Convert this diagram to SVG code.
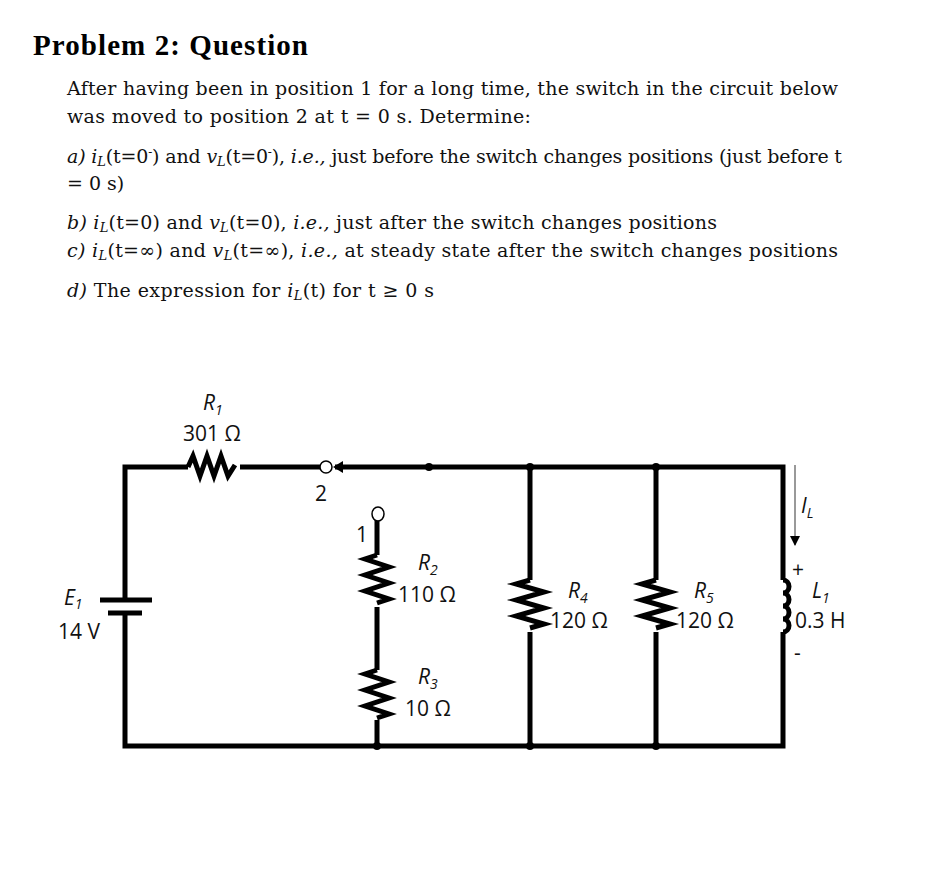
<svg xmlns="http://www.w3.org/2000/svg" width="952" height="894" viewBox="0 0 952 894">
<style>
.t{font-family:"DejaVu Serif","Liberation Serif",serif;font-size:19px;fill:#111}
.c{font-family:"Open Sans","Liberation Sans",sans-serif;font-size:21px;fill:#111}
.w{fill:none;stroke:#000;stroke-width:5;stroke-linejoin:miter}
</style>
<defs><marker id="ah" markerWidth="10" markerHeight="10" refX="9" refY="5" orient="auto" markerUnits="userSpaceOnUse"><path d="M0,0 L10,5 L0,10 z" fill="#000"/></marker></defs>
<rect width="952" height="894" fill="#fff"/>
<text x="33" y="55" style="font-family:'Liberation Serif',serif;font-size:29px;font-weight:bold" textLength="275">Problem 2: Question</text>
<text class="t" x="67" y="95" textLength="771">After having been in position 1 for a long time, the switch in the circuit below</text>
<text class="t" x="67" y="123" textLength="464">was moved to position 2 at t = 0 s.  Determine:</text>
<text class="t" x="67" y="163" textLength="775"><tspan font-style="italic">a) i<tspan font-size="13" dy="3">L</tspan></tspan><tspan dy="-3">(t=0</tspan><tspan font-size="12" dy="-7">-</tspan><tspan dy="7">) and </tspan><tspan font-style="italic">v<tspan font-size="13" dy="3">L</tspan></tspan><tspan dy="-3">(t=0</tspan><tspan font-size="12" dy="-7">-</tspan><tspan dy="7">), </tspan><tspan font-style="italic">i.e.,</tspan> just before the switch changes positions (just before t</text>
<text class="t" x="67" y="190">= 0 s)</text>
<text class="t" x="67" y="229" textLength="650"><tspan font-style="italic">b)  i<tspan font-size="13" dy="3">L</tspan></tspan><tspan dy="-3">(t=0) and </tspan><tspan font-style="italic">v<tspan font-size="13" dy="3">L</tspan></tspan><tspan dy="-3">(t=0), </tspan><tspan font-style="italic">i.e.,</tspan> just after the switch changes positions</text>
<text class="t" x="67" y="257" textLength="771"><tspan font-style="italic">c)  i<tspan font-size="13" dy="3">L</tspan></tspan><tspan dy="-3">(t=∞) and </tspan><tspan font-style="italic">v<tspan font-size="13" dy="3">L</tspan></tspan><tspan dy="-3">(t=∞), </tspan><tspan font-style="italic">i.e.,</tspan> at steady state after the switch changes positions</text>
<text class="t" x="67" y="297" textLength="367"><tspan font-style="italic">d)  </tspan>The expression for <tspan font-style="italic">i<tspan font-size="13" dy="3">L</tspan></tspan><tspan dy="-3">(t) for t ≥ 0 s</tspan></text>
<g id="connectors">
<path class="w" d="M125,600 V467 H188 M240,467 H322 M600,467 H783 V580 M783,632 V746 H125 V613"/>
<path class="w" d="M377,519 V555 M377,607 V670 M377,720 V746"/>
<path class="w" d="M530,467 V580 M530,632 V746 M656,467 V580 M656,632 V746"/>
<path class="w" d="M335,467 H600"/>
<circle cx="429" cy="467" r="4" fill="#000"/><circle cx="530" cy="467" r="4" fill="#000"/><circle cx="656" cy="467" r="4" fill="#000"/>
<circle cx="377" cy="746" r="4" fill="#000"/><circle cx="530" cy="746" r="4" fill="#000"/><circle cx="656" cy="746" r="4" fill="#000"/>
<line x1="795" y1="465" x2="795" y2="545" stroke="#777" stroke-width="1.5" marker-end="url(#ah)"/>
</g>
<g id="E1"><line x1="100" y1="600" x2="152" y2="600" stroke="#000" stroke-width="5"/><line x1="108" y1="613" x2="142" y2="613" stroke="#000" stroke-width="5"/>
<text class="c" x="64" y="605" font-style="italic">E<tspan font-size="14" dy="4">1</tspan></text><text class="c" x="58" y="639">14 V</text></g>
<g id="R1"><path class="w" stroke-width="4" d="M188,467 l5,-11 l7,20 l7,-20 l7,20 l7,-20 l7,20 l7,-11"/>
<text class="c" x="203" y="410" font-style="italic">R<tspan font-size="14" dy="5">1</tspan></text><text class="c" x="183" y="441">301 Ω</text></g>
<g id="S1"><circle cx="326" cy="467" r="6" fill="#fff" stroke="#000" stroke-width="1.5"/><path d="M333,467 L343,461 L343,473 z" fill="#000"/>
<text class="c" x="315" y="501">2</text>
<ellipse cx="378" cy="514" rx="6" ry="7" fill="#fff" stroke="#000" stroke-width="1.5"/><text class="c" x="356" y="542">1</text></g>
<g id="R2"><path class="w" stroke-width="4" d="M377,555 l-12,4 l24,8 l-24,8 l24,8 l-24,8 l24,8 l-12,4"/>
<text class="c" x="418" y="570" font-style="italic">R<tspan font-size="14" dy="5">2</tspan></text><text class="c" x="398" y="602">110 Ω</text></g>
<g id="R3"><path class="w" stroke-width="4" d="M377,670 l-12,4 l24,8 l-24,8 l24,8 l-24,8 l24,8 l-12,4"/>
<text class="c" x="418" y="684" font-style="italic">R<tspan font-size="14" dy="5">3</tspan></text><text class="c" x="405" y="716">10 Ω</text></g>
<g id="R4"><path class="w" stroke-width="4" d="M530,580 l-14,4 l28,8 l-28,8 l28,8 l-28,8 l28,8 l-14,4"/>
<text class="c" x="568" y="598" font-style="italic">R<tspan font-size="14" dy="5">4</tspan></text><text class="c" x="550" y="628">120 Ω</text></g>
<g id="R5"><path class="w" stroke-width="4" d="M656,580 l-14,4 l28,8 l-28,8 l28,8 l-28,8 l28,8 l-14,4"/>
<text class="c" x="694" y="598" font-style="italic">R<tspan font-size="14" dy="5">5</tspan></text><text class="c" x="676" y="628">120 Ω</text></g>
<g id="L1"><path class="w" stroke-width="4" d="M783,580 a6,6.5 0 0 1 0,13 a6,6.5 0 0 1 0,13 a6,6.5 0 0 1 0,13 a6,6.5 0 0 1 0,13"/>
<text class="c" x="792" y="577" font-size="15">+</text><text class="c" x="794" y="660" font-size="15">-</text>
<text class="c" x="812" y="598" font-style="italic">L<tspan font-size="14" dy="5">1</tspan></text><text class="c" x="795" y="628">0.3 H</text>
<text class="c" x="801" y="513" font-style="italic">I<tspan font-size="14" dy="5">L</tspan></text></g>
</svg>
